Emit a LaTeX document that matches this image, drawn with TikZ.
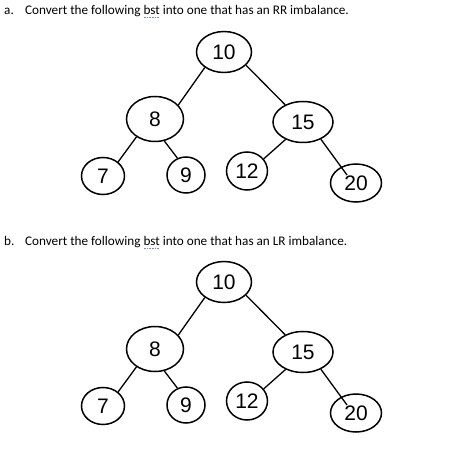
\documentclass[tikz,border=0pt]{standalone}
\usepackage{fontspec}
\setmainfont{Carlito}
\newfontfamily\handfont{Liberation Sans}
\usetikzlibrary{shapes.geometric}
\definecolor{spellblue}{RGB}{120,140,200}
\newcommand\spellerr[1]{\setbox0\hbox{#1}\rlap{\color{spellblue}\leaders\hbox to 1.6pt{\hss\vrule height -2.4pt depth 3.4pt width 0.9pt\hss}\hskip\wd0}#1}
\tikzset{
  bnode/.style={draw, ellipse, line width=1.5pt, inner sep=0pt, font=\handfont\fontsize{21}{21}\selectfont},
  bedge/.style={line width=1.3pt},
  qtext/.style={anchor=base west, inner sep=0pt, font=\fontsize{13.2}{15}\selectfont}
}
\newcommand\drawtree[2]{%
  \begin{scope}[yshift=#2]
  \node[bnode, minimum width=55pt, minimum height=41pt] (#1n10) at (224,52) {10};
  \node[bnode, minimum width=57pt, minimum height=45pt] (#1n8) at (155,119) {8};
  \node[bnode, minimum width=60pt, minimum height=41pt] (#1n15) at (303,122) {15};
  \node[bnode, minimum width=43pt, minimum height=37pt] (#1n7) at (103,176) {7};
  \node[bnode, minimum width=38pt, minimum height=36pt] (#1n9) at (186,175) {9};
  \node[bnode, minimum width=41pt, minimum height=38pt] (#1n12) at (247,171) {12};
  \node[bnode, minimum width=51pt, minimum height=38pt] (#1n20) at (356,183) {20};
  \coordinate (#1end20) at ([shift={(-9pt,8pt)}]#1n20.center);
  \draw[bedge] (#1n10.219) -- (#1n8.31);
  \draw[bedge] (#1n10.329) -- (#1n15.136);
  \draw[bedge] (#1n8.224) -- (#1n7.43);
  \draw[bedge] (#1n8.293) -- (#1n9.117);
  \draw[bedge] (#1n15.225) -- (#1n12.36);
  \draw[bedge] (#1n15.316) -- (#1end20);
  \end{scope}}
\begin{document}
\begin{tikzpicture}[x=1pt,y=-1pt]
  \useasboundingbox (0,0) rectangle (474,462);
  \fill[white] (0,0) rectangle (474,462);
  \node[qtext] (la) at (4,15) {a.};
  \node[qtext] (qa) at (25,15) {Convert the following \spellerr{bst} into one that has an RR imbalance.};
  \drawtree{a}{0pt}
  \node[qtext] (lb) at (4,246) {b.};
  \node[qtext] (qb) at (25,246) {Convert the following \spellerr{bst} into one that has an LR imbalance.};
  \drawtree{b}{-230pt}
\end{tikzpicture}
\end{document}
